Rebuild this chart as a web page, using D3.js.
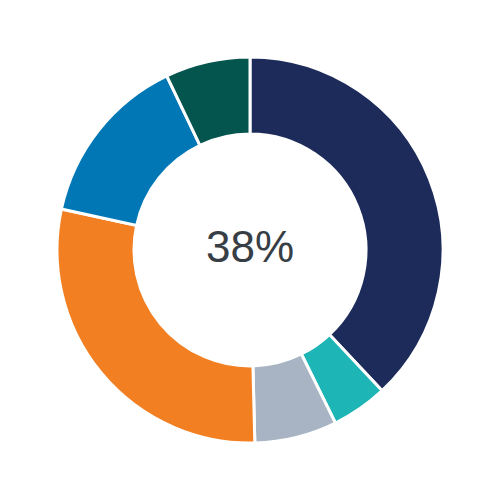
<!DOCTYPE html>
<html>
<head>
<meta charset="utf-8">
<script src="https://cdn.jsdelivr.net/npm/d3@7"></script>
<style>
  html, body { margin: 0; padding: 0; background: #fff; }
  svg { display: block; }
</style>
</head>
<body>
<svg id="chart" width="500" height="500"></svg>
<script>
const categories = ["A", "B", "C", "D", "E", "F"];
const values = [38, 4.7, 6.9, 28.8, 14.5, 7.1];
const colors = ["#1d2b5b", "#1db5b6", "#a8b4c3", "#f27f21", "#0277b5", "#05554f"];
const centerLabel = "38%";

const width = 500, height = 500;
const cx = 250, cy = 250;
const outerR = 193, innerR = 116;

const svg = d3.select("#chart");
const g = svg.append("g").attr("transform", `translate(${cx},${cy})`);

const pie = d3.pie().sort(null).value(d => d.value);
const arc = d3.arc().innerRadius(innerR).outerRadius(outerR);

const data = categories.map((c, i) => ({ name: c, value: values[i], color: colors[i] }));

g.selectAll("path")
  .data(pie(data))
  .join("path")
  .attr("d", arc)
  .attr("fill", d => d.data.color)
  .attr("stroke", "#fff")
  .attr("stroke-width", 3)
  .attr("stroke-linejoin", "miter");

g.append("text")
  .attr("x", 0)
  .attr("y", 12)
  .attr("text-anchor", "middle")
  .attr("font-family", "Liberation Sans, Arial, sans-serif")
  .attr("font-size", 44)
  .attr("fill", "#383e45")
  .text(centerLabel);
</script>
</body>
</html>
